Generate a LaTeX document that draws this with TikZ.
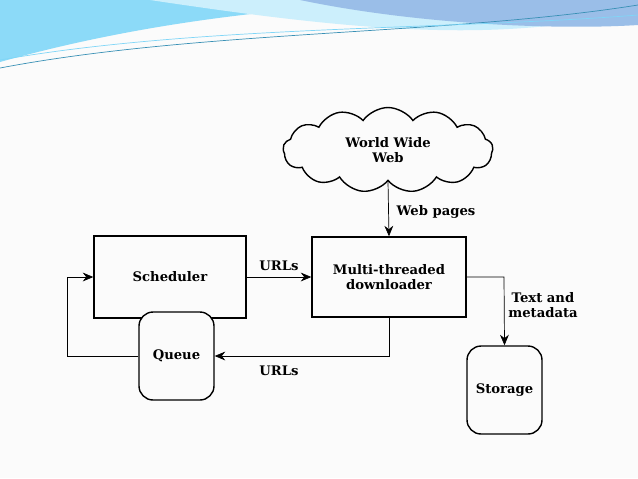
\documentclass[tikz,border=0pt]{standalone}
\usepackage{fontspec}
\setmainfont{DejaVu Serif}
\usetikzlibrary{shapes.symbols,arrows.meta}
\begin{document}
\begin{tikzpicture}[x=0.02cm,y=-0.02cm,
  lbl/.style={font=\fontsize{7.5}{9}\selectfont\bfseries,align=center},
  box/.style={draw,thick,lbl,inner sep=0},
  rbox/.style={box,rounded corners=8pt},
  arr/.style={-{Stealth[length=6pt,width=5pt]}}]
\useasboundingbox[fill=gray!3] (0,0) rectangle (638,478);
% decorative top wave
\fill[cyan!45!white] (0,0) -- (0,62) .. controls (150,20) and (300,5) .. (450,0) -- cycle;
\fill[cyan!20!white] (150,0) .. controls (350,30) and (500,45) .. (638,10) -- (638,0) -- cycle;
\fill[cyan!60!blue!40!white] (300,0) .. controls (420,25) and (560,30) .. (638,25) -- (638,0) -- (520,0) .. controls (560,15) and (600,15) .. (638,5) -- (638,0) -- cycle;
\draw[cyan!70!black,thin] (0,68) .. controls (200,30) and (450,35) .. (638,5);
\draw[cyan!50,thin] (0,60) .. controls (200,25) and (450,30) .. (638,15);
% nodes
\node[cloud,cloud puffs=13,cloud puff arc=110,aspect=2.6,draw,thick,lbl,inner sep=0,minimum width=4.2cm,minimum height=1.7cm] (www) at (388,150) {World Wide\\Web};
\node[box,minimum width=3.04cm,minimum height=1.64cm] (sch) at (170,277) {Scheduler};
\node[box,minimum width=3.08cm,minimum height=1.6cm] (dl) at (389,277) {Multi-threaded\\downloader};
\node[rbox,fill=gray!3,minimum width=1.5cm,minimum height=1.76cm] (q) at (176.5,356) {Queue};
\node[rbox,minimum width=1.5cm,minimum height=1.76cm] (st) at (504.5,390) {Storage};
\coordinate (a1) at (dl.south |- q.east);
\coordinate (b1) at (67,356);
\coordinate (b2) at (67,277);
\coordinate (c1) at (504,277);
% connectors
\draw[arr] (www.south) -- (dl.north);
\node[lbl] at (436,212) {Web pages};
\draw[arr] (sch.east) -- node[lbl,above]{URLs} (dl.west);
\draw[arr] (dl.south) -- (a1) -- (q.east);
\node[lbl] at (279,371) {URLs};
\draw[arr] (q.west) -- (b1) -- (b2) -- (sch.west);
\draw[arr] (dl.east) -- (c1) -- (st.north);
\node[lbl] at (543,305) {Text and\\metadata};
\end{tikzpicture}
\end{document}
